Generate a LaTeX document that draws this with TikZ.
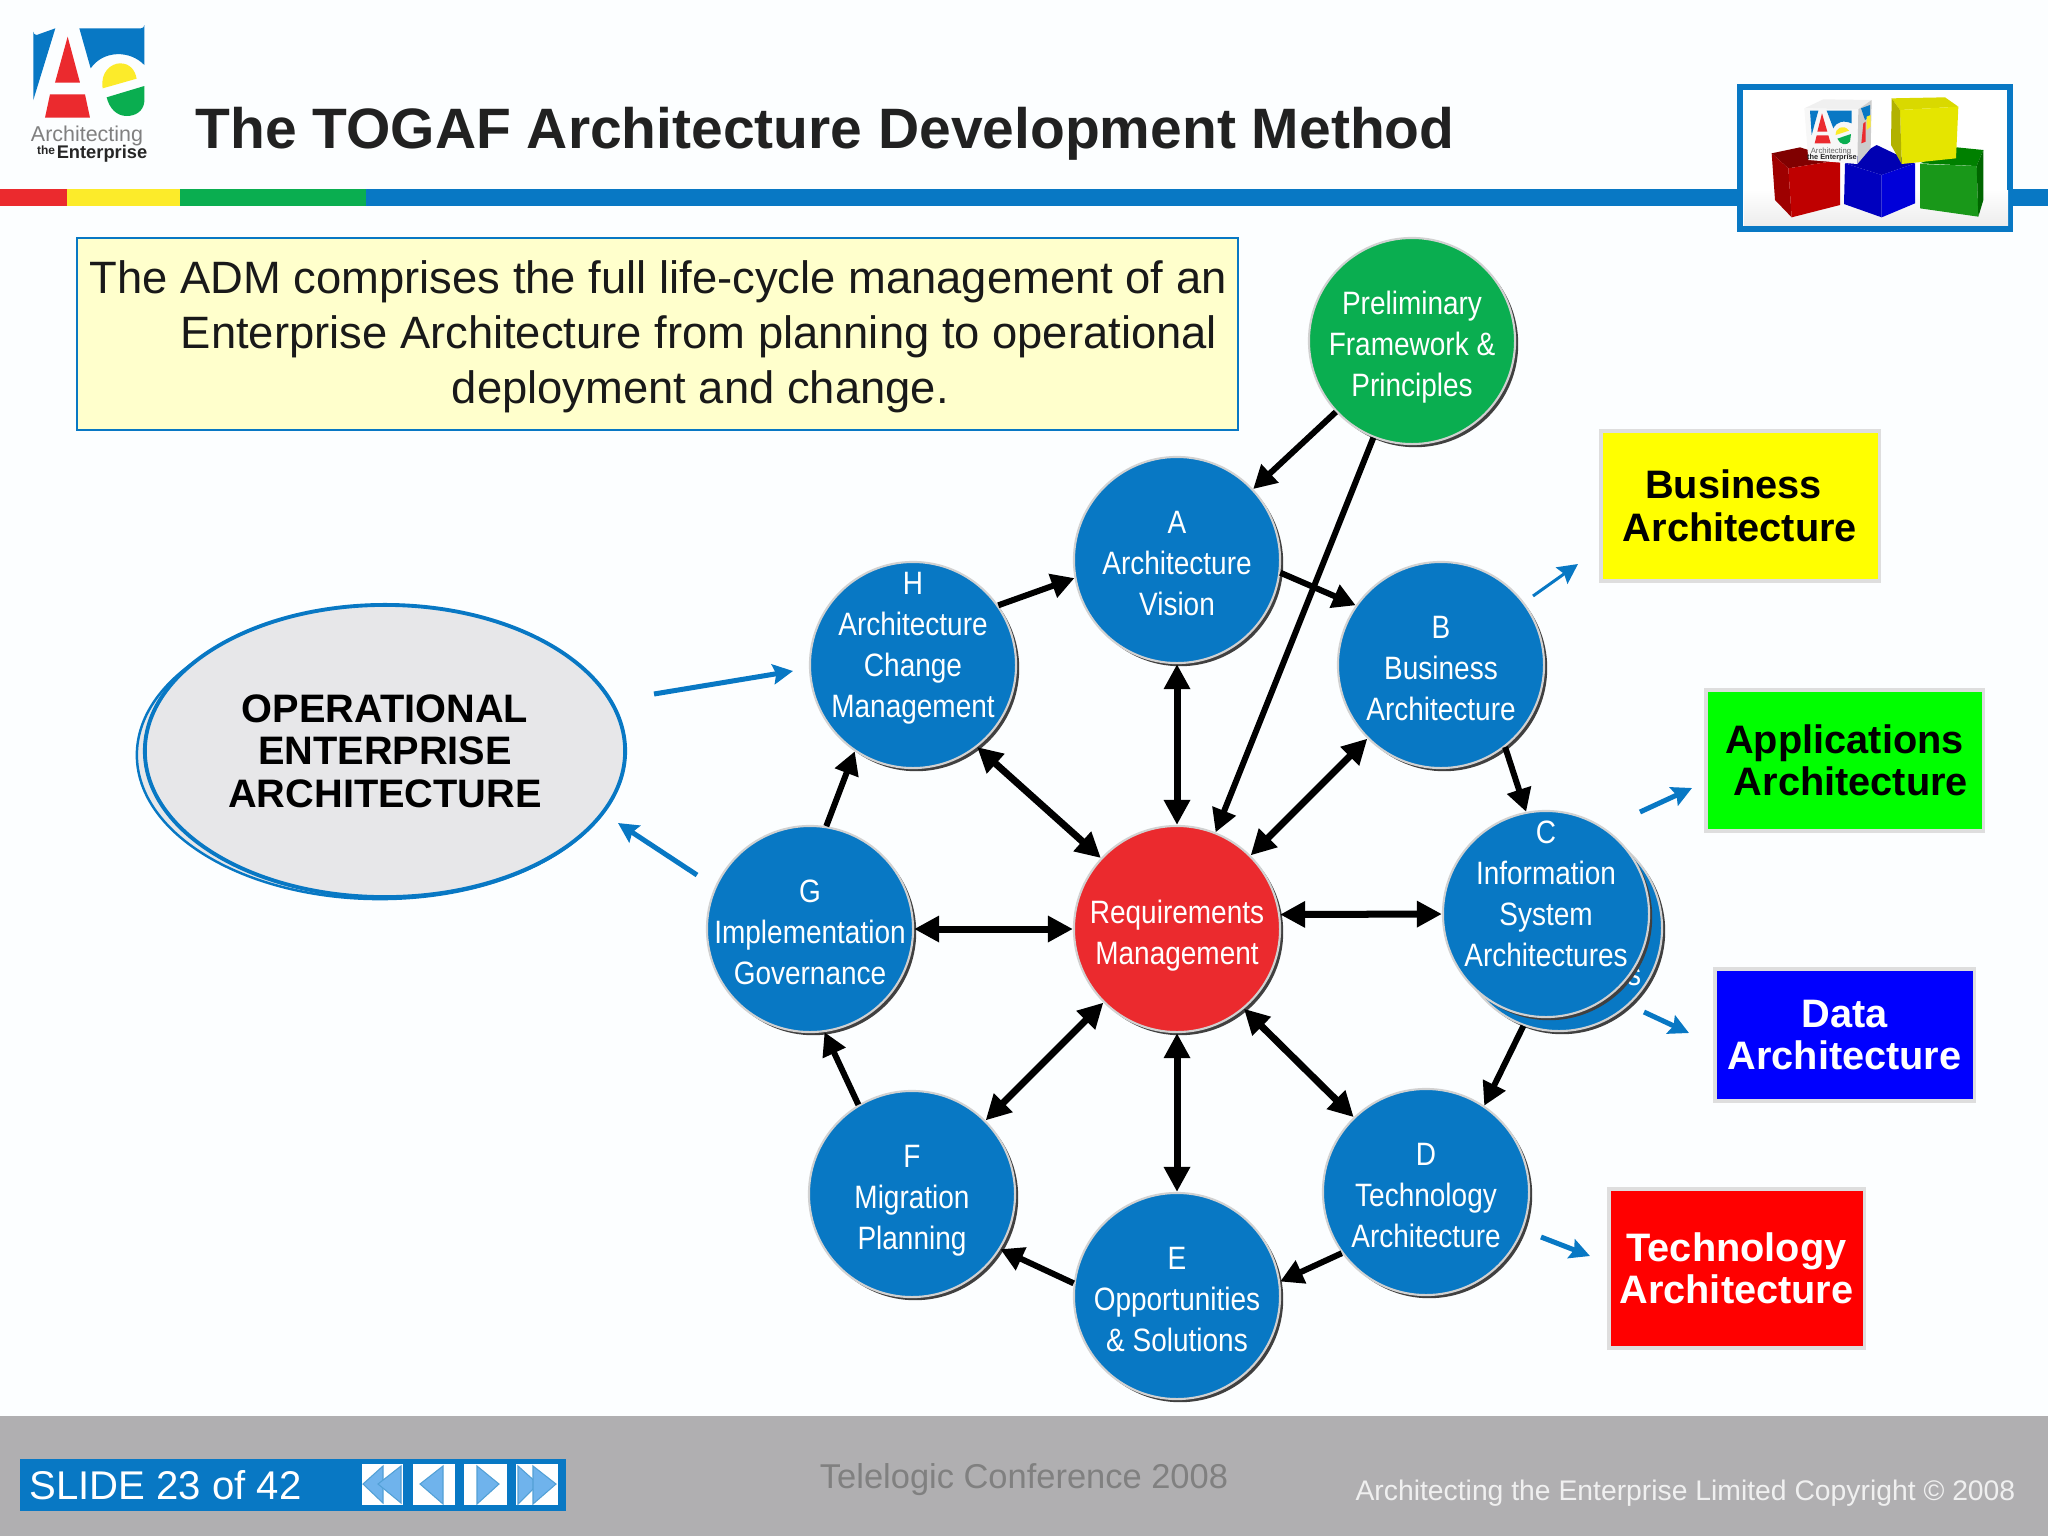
\documentclass[tikz,border=0pt]{standalone}
\usepackage{fontspec}
\setmainfont{Liberation Sans}
\newfontfamily\narrowfont[FakeStretch=0.865]{Liberation Sans}
\usetikzlibrary{arrows.meta}
\usetikzlibrary{shapes.geometric}
\usetikzlibrary{shadows}
\definecolor{adBlue}{HTML}{0878C4}
\definecolor{adRed}{HTML}{EB2A2E}
\definecolor{adGreen}{HTML}{0AAE50}
\definecolor{adYellow}{HTML}{FCEB2A}
\definecolor{paleYellow}{HTML}{FFFFCC}
\definecolor{ellipseGrey}{HTML}{E7E7E9}
\definecolor{footGrey}{HTML}{B0AFB1}
\definecolor{paper}{HTML}{FCFEFF}
\definecolor{arrowFill}{HTML}{6FB3EC}
\definecolor{archYellow}{HTML}{FFFF00}
\definecolor{archGreen}{HTML}{00FF00}
\definecolor{archBlue}{HTML}{0000FF}
\definecolor{archRed}{HTML}{FF0000}
\newcommand{\lowr}{\\[-13.3pt]\mbox{}}
\begin{document}
\begin{tikzpicture}[x=0.01cm, y=-0.01cm, font=\rmfamily]
	\tikzstyle{phaseStyle}=[shape = circle, minimum size = 2.06cm, inner sep = -0.3cm, draw = black!18, line width = 0.6pt, fill = adBlue, text = white, align = center, font = \narrowfont\fontsize{9.2}{11.65}\selectfont, drop shadow = {shadow xshift = 0.9pt, shadow yshift = -0.9pt, fill = black!75, opacity = 1}]
	\tikzstyle{archStyle}=[shape = rectangle, draw = black!13, line width = 0.9pt, inner sep = 0pt, align = center, font = \bfseries\fontsize{11.3}{12.1}\selectfont]
	\tikzstyle{oneWay}=[line width = 0.06cm, draw = black, -{Triangle[length = 0.23cm, width = 0.24cm]}]
	\tikzstyle{twoWay}=[line width = 0.07cm, draw = black, {Triangle[length = 0.25cm, width = 0.25cm]}-{Triangle[length = 0.25cm, width = 0.25cm]}]
	\tikzstyle{feedStyle}=[line width = 0.05cm, draw = adBlue, -{Stealth[length = 0.2cm, width = 0.2cm, inset = 0.03cm]}]
	\tikzstyle{oeaStyle}=[shape = ellipse, draw = adBlue, line width = 1.1pt, fill = ellipseGrey, inner sep = 0pt]

	\useasboundingbox (0,0) rectangle (2048,1536);
	\fill[paper] (0,0) rectangle (2048,1536);

	% header stripe
	\fill[adRed] (0,189) rectangle (67,206);
	\fill[adYellow] (67,189) rectangle (180,206);
	\fill[adGreen] (180,189) rectangle (366,206);
	\fill[adBlue] (366,189) rectangle (2048,206);

	% logo
	\begin{scope}[scale = 1/3]
		\fill[adBlue] (100,300) -- (100,95) arc (180:90:10) -- (166,85) -- cycle;
		\fill[adBlue] (238,85) -- (423,85) arc (90:0:10) -- (433,195) .. controls (390,150) and (310,150) .. (272,205) -- cycle;
		\fill[adRed] (203,110) -- (240,248) -- (165,248) -- cycle;
		\fill[adRed] (150,283) -- (255,283) -- (270,353) -- (135,353) -- cycle;
		\fill[adYellow] (308,265) .. controls (300,215) and (335,190) .. (360,190) .. controls (390,190) and (405,210) .. (410,236) -- cycle;
		\fill[adGreen] (320,292) -- (433,258) -- (433,305) .. controls (430,335) and (405,348) .. (380,348) .. controls (350,348) and (328,325) .. (320,292) -- cycle;
	\end{scope}
	\node[text = black!50, font = \fontsize{6.1}{7}\selectfont, inner sep = 0pt] (logoTop) at (87,136) {Architecting};
	\node[text = black!85, font = \bfseries\fontsize{3.4}{4}\selectfont, inner sep = 0pt] (logoThe) at (46,150) {the};
	\node[text = black!85, font = \bfseries\fontsize{5.2}{6}\selectfont, inner sep = 0pt] (logoEnt) at (102,154) {Enterprise};

	\node[text = black!87, font = \bfseries\fontsize{16.2}{18}\selectfont, inner sep = 0pt, anchor = west] (title) at (195,134) {The TOGAF Architecture Development Method};

	% cubes picture
	\node[shape = rectangle, draw = adBlue, line width = 1.7pt, fill = white, minimum width = 2.7cm, minimum height = 1.42cm, inner sep = 0pt] (cubeFrame) at (1875,158) {};
	\begin{scope}[shift = {(1700,60)}, scale = 1/3]
		\fill[top color = white, bottom color = black!7] (132,390) rectangle (924,496);
		\fill[red!50!black] (215,280) -- (300,262) -- (420,300) -- (265,325) -- cycle;
		\fill[red!62!black] (215,280) -- (265,325) -- (275,472) -- (225,420) -- cycle;
		\fill[red!75!black] (265,325) -- (420,300) -- (420,435) -- (275,472) -- cycle;
		\fill[blue!70!black] (435,310) -- (530,255) -- (645,310) -- (545,345) -- cycle;
		\fill[blue!75!black] (435,310) -- (545,345) -- (545,472) -- (432,432) -- cycle;
		\fill[blue!85!black] (545,345) -- (645,310) -- (645,430) -- (545,472) -- cycle;
		\fill[green!50!black] (660,310) -- (770,262) -- (850,270) -- (830,318) -- cycle;
		\fill[green!55!black!90] (660,312) -- (830,318) -- (835,470) -- (660,445) -- cycle;
		\fill[green!40!black] (850,270) -- (830,318) -- (835,470) -- (850,420) -- cycle;
		\fill[archYellow!85!black] (575,115) -- (735,112) -- (775,140) -- (600,150) -- cycle;
		\fill[archYellow!90!black] (600,150) -- (775,140) -- (768,295) -- (605,312) -- cycle;
		\fill[archYellow!70!black] (575,115) -- (600,150) -- (605,312) -- (573,255) -- cycle;
		\fill[black!6] (313,145) -- (370,118) -- (515,120) -- (475,148) -- cycle;
		\fill[black!3] (313,145) -- (475,148) -- (472,312) -- (325,300) -- cycle;
		\fill[black!20] (475,148) -- (515,120) -- (512,265) -- (472,312) -- cycle;
		\fill[adBlue] (330,152) -- (355,152) -- (335,225) -- cycle;
		\fill[adBlue] (380,152) -- (455,152) -- (455,190) .. controls (430,180) and (410,185) .. (400,205) -- cycle;
		\fill[adRed] (366,160) -- (382,215) -- (352,215) -- cycle;
		\fill[adRed] (350,226) -- (385,226) -- (392,250) -- (344,250) -- cycle;
		\fill[adYellow] (407,225) .. controls (405,205) and (430,190) .. (447,212) -- cycle;
		\fill[adGreen] (412,236) -- (453,222) -- (450,245) .. controls (440,258) and (420,255) .. (412,236) -- cycle;
		\fill[adBlue] (483,145) -- (510,135) -- (510,170) -- (495,180) -- cycle;
		\fill[adRed] (490,190) -- (497,185) -- (497,245) -- (484,250) -- cycle;
		\fill[adYellow] (500,170) -- (512,165) -- (512,200) -- (500,210) -- cycle;
	\end{scope}
	\node[text = black!60, font = \fontsize{2.2}{3}\selectfont, inner sep = 0pt] (cubeTop) at (1831,151) {Architecting};
	\node[text = black!85, font = \bfseries\fontsize{2.1}{3}\selectfont, inner sep = 0pt] (cubeEnt) at (1832,158) {the Enterprise};

	\node[shape = rectangle, draw = adBlue, line width = 0.6pt, fill = paleYellow, minimum width = 11.61cm, minimum height = 1.92cm, inner sep = 0pt] (noteBox) at (657.5,334) {};
	\node[anchor = west, inner sep = 0pt, align = left, font = \fontsize{12.9}{15.6}\selectfont, text = black!90] (noteText) at (89,337) {The ADM comprises the full life-cycle management of an\\\hspace*{0.91cm}Enterprise Architecture from planning to operational\\\hspace*{3.62cm}deployment and change.};

	% OEA
	\node[oeaStyle, line width = 0.7pt, minimum width = 4.86cm, minimum height = 2.88cm] (vOEAb) at (380,755) {};
	\node[oeaStyle, minimum width = 4.8cm, minimum height = 2.92cm, font = \bfseries\fontsize{11.3}{12.1}\selectfont, align = center] (vOEA) at (385,751) {OPERATIONAL\\ENTERPRISE\\ARCHITECTURE};

	% phases
	\node[phaseStyle, fill = adGreen] (vP) at (1412,341) {Preliminary\\Framework \&\\Principles\lowr};
	\node[phaseStyle] (vA) at (1177,560) {A\\Architecture\\Vision\lowr};
	\node[phaseStyle] (vB) at (1441,665) {B\\Business\\Architecture\lowr};
	\node[phaseStyle] (vCb) at (1559,928) {};
	\node[text = white, font = \narrowfont\fontsize{9.2}{11.65}\selectfont, inner sep = 0pt] (vCs) at (1634,977) {s};
	\node[phaseStyle] (vC) at (1546,914) {C\\Information\\System\\Architectures\\\mbox{}};
	\node[phaseStyle] (vD) at (1426,1192) {D\\Technology\\Architecture\lowr};
	\node[phaseStyle] (vE) at (1177,1296) {E\\Opportunities\\\& Solutions\lowr};
	\node[phaseStyle] (vF) at (912,1194) {F\\Migration\\Planning\lowr};
	\node[phaseStyle] (vG) at (810,929) {G\\Implementation\\Governance\lowr};
	\node[phaseStyle] (vH) at (913,665) {H\\Architecture\\Change\\Management\\\mbox{}};
	\node[phaseStyle, fill = adRed] (vR) at (1177,929) {Requirements\\Management\lowr};

	% ADM cycle
	\draw[oneWay] (vP) -- (vA);
	\draw[oneWay] (vP) -- (vR);
	\draw[oneWay] (vA.-7) -- (vB.145);
	\draw[oneWay] (vB.-52) -- (vC.101);
	\draw[oneWay] (vCb.-110) -- (vD.56);
	\draw[oneWay] (vD.216) -- (vE.8);
	\draw[oneWay] (vE.173) -- (vF.-32);
	\draw[oneWay] (vF.121) -- (vG.-82);
	\draw[oneWay] (vG.81) -- (vH.236);
	\draw[oneWay] (vH.35) -- (vA.190);

	% requirements management
	\draw[twoWay] (vA) -- (vR);
	\draw[twoWay] (vB) -- (vR);
	\draw[twoWay] (vR.8) -- (vC.180);
	\draw[twoWay] (vD.134) -- (vR.-50);
	\draw[twoWay] (vE) -- (vR);
	\draw[twoWay] (vF) -- (vR);
	\draw[twoWay] (vG.0) -- (vR.180);
	\draw[twoWay] (vH.-52) -- (vR.137);

	% architecture boxes
	\node[archStyle, fill = archYellow, minimum width = 2.78cm, minimum height = 1.5cm] (vBus) at (1740,506) {Business\hspace*{0.13cm}\\Architecture};
	\node[archStyle, fill = archGreen, minimum width = 2.77cm, minimum height = 1.41cm] (vApp) at (1844.5,760.5) {Applications\\\hspace*{0.13cm}Architecture};
	\node[archStyle, fill = archBlue, text = white, minimum width = 2.59cm, minimum height = 1.32cm] (vDat) at (1844.5,1035) {Data\\Architecture};
	\node[archStyle, fill = archRed, text = white, minimum width = 2.55cm, minimum height = 1.59cm] (vTec) at (1736.5,1268.5) {Technology\\Architecture};

	% feeds
	\coordinate (f0) at (654,694);
	\coordinate (f1) at (793,671);
	\coordinate (f2) at (697,875);
	\coordinate (f3) at (618,823);
	\coordinate (f4) at (1533,596);
	\coordinate (f5) at (1578,564);
	\coordinate (f6) at (1640,812);
	\coordinate (f7) at (1692,788);
	\coordinate (f8) at (1644,1012);
	\coordinate (f9) at (1689,1033);
	\coordinate (f10) at (1541,1237);
	\coordinate (f11) at (1590,1256);
	\draw[feedStyle] (f0) -- (f1);
	\draw[feedStyle] (f2) -- (f3);
	\draw[feedStyle, line width = 0.03cm] (f4) -- (f5);
	\draw[feedStyle] (f6) -- (f7);
	\draw[feedStyle] (f8) -- (f9);
	\draw[feedStyle] (f10) -- (f11);

	% footer
	\fill[footGrey] (0,1416) rectangle (2048,1536);
	\fill[adBlue] (20,1459) rectangle (566,1511);
	\node[text = white, font = \fontsize{11.4}{13}\selectfont, inner sep = 0pt, anchor = west] (slideNo) at (29,1485) {SLIDE 23 of 42};
	\fill[white] (362,1464) rectangle (403,1505);
	\fill[white] (413,1464) rectangle (455,1505);
	\fill[white] (464,1464) rectangle (507,1505);
	\fill[white] (516,1464) rectangle (558,1505);
	\filldraw[fill = arrowFill, draw = adBlue!70, line width = 0.3pt] (363,1484) -- (383,1466) -- (383,1503) -- cycle;
	\filldraw[fill = arrowFill, draw = adBlue!70, line width = 0.3pt] (378,1484) -- (401,1466) -- (401,1503) -- cycle;
	\filldraw[fill = arrowFill, draw = adBlue!70, line width = 0.3pt] (420,1484) -- (443,1466) -- (443,1504) -- cycle;
	\filldraw[fill = arrowFill, draw = adBlue!70, line width = 0.3pt] (477,1466) -- (477,1504) -- (499,1484) -- cycle;
	\filldraw[fill = arrowFill, draw = adBlue!70, line width = 0.3pt] (518,1466) -- (518,1504) -- (538,1484) -- cycle;
	\filldraw[fill = arrowFill, draw = adBlue!70, line width = 0.3pt] (533,1466) -- (533,1504) -- (556,1484) -- cycle;
	\node[text = black!50, font = \fontsize{9.8}{11}\selectfont, inner sep = 0pt] (confName) at (1024,1480) {Telelogic Conference 2008};
	\node[text = black!6, font = \fontsize{8.05}{9}\selectfont, inner sep = 0pt, anchor = east] (copyText) at (2016,1493) {Architecting the Enterprise Limited Copyright © 2008};
\end{tikzpicture}
\end{document}
